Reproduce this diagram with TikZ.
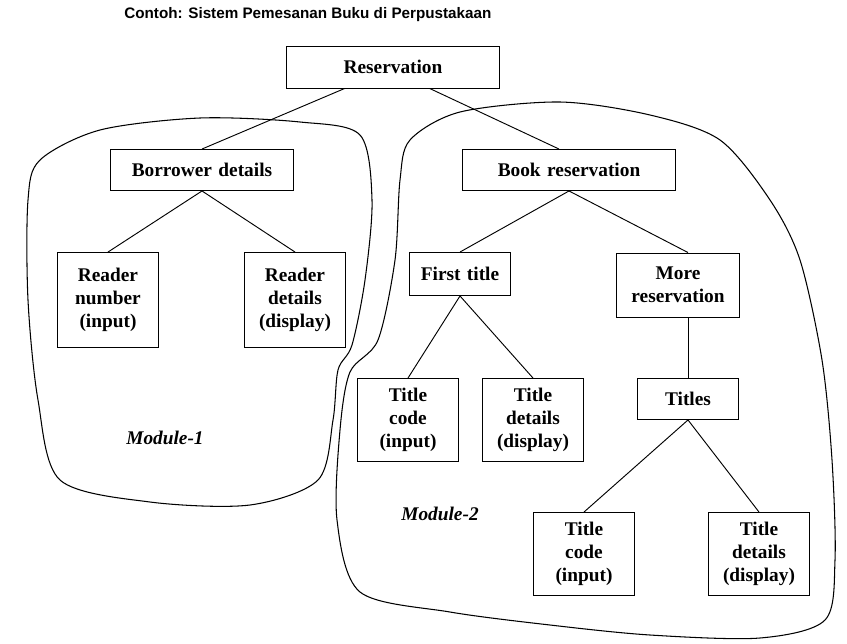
\documentclass[tikz,border=0pt]{standalone}
\usepackage{fontspec}
\setmainfont{Liberation Serif}
\newfontfamily\sans{Liberation Sans}
\begin{document}
\begin{tikzpicture}[x=0.03cm,y=-0.03cm,thick]
  \tikzset{box/.style={draw,rectangle,align=center,inner sep=1mm,font=\fontsize{16.5}{19.5}\selectfont\bfseries},
           blob/.style={draw,line width=0.9pt}}
  \useasboundingbox (0,0) rectangle (847,643);
  \node[font=\sans\bfseries\fontsize{13}{15}\selectfont,anchor=west] (ttl) at (120,15) {Contoh: Sistem Pemesanan Buku di Perpustakaan};
  % boxes
  \node[box,text width=6.2cm,minimum height=1.26cm] (res) at (393,67) {Reservation};
  \node[box,text width=5.3cm,minimum height=1.23cm] (bor) at (202,170) {Borrower details};
  \node[box,text width=6.2cm,minimum height=1.23cm] (book) at (569,170) {Book reservation};
  \node[box,text width=2.85cm,minimum height=2.85cm] (rn) at (108,300) {Reader\\number\\(input)};
  \node[box,text width=2.85cm,minimum height=2.85cm] (rd) at (295,300) {Reader\\details\\(display)};
  \node[box,text width=2.85cm,minimum height=1.29cm] (ft) at (460,274) {First title};
  \node[box,text width=3.5cm,minimum height=1.92cm] (mr) at (678,285) {More\\reservation};
  \node[box,text width=2.85cm,minimum height=2.49cm] (tc1) at (408,420) {Title\\code\\(input)};
  \node[box,text width=2.85cm,minimum height=2.49cm] (td1) at (533,420) {Title\\details\\(display)};
  \node[box,text width=2.85cm,minimum height=1.23cm] (tit) at (688,399) {Titles};
  \node[box,text width=2.85cm,minimum height=2.49cm] (tc2) at (584,554) {Title\\code\\(input)};
  \node[box,text width=2.85cm,minimum height=2.49cm] (td2) at (759,554) {Title\\details\\(display)};
  % tree lines
  \draw ([xshift=-1.45cm]res.south) -- (bor.north);
  \draw ([xshift=1.1cm]res.south) -- ([xshift=-0.3cm]book.north);
  \draw (bor.south) -- (rn.north);
  \draw (bor.south) -- (rd.north);
  \draw (book.south) -- (ft.north);
  \draw (book.south) -- ([xshift=0.3cm]mr.north);
  \draw (ft.south) -- (tc1.north);
  \draw (ft.south) -- (td1.north);
  \draw (tit.north |- mr.south) -- (tit.north);
  \draw (tit.south) -- (tc2.north);
  \draw (tit.south) -- (td2.north);
  % modules
  \draw[blob] plot[smooth cycle] coordinates {(40,160) (100,130) (200,118) (300,122) (360,135) (372,200) (365,280) (352,345) (338,370) (333,420) (318,480) (250,505) (150,502) (60,480) (38,400) (28,300) (28,200)};
  \draw[blob] plot[smooth cycle] coordinates {(410,140) (460,112) (560,102) (650,115) (720,140) (770,200) (800,260) (822,360) (832,460) (835,560) (825,620) (760,638) (650,635) (550,625) (450,612) (360,592) (337,520) (340,430) (350,372) (378,340) (395,260) (400,180)};
  \node[font=\fontsize{16.5}{19.5}\selectfont\bfseries\itshape] (m1) at (165,438) {Module-1};
  \node[font=\fontsize{16.5}{19.5}\selectfont\bfseries\itshape] (m2) at (440,514) {Module-2};
\end{tikzpicture}
\end{document}
